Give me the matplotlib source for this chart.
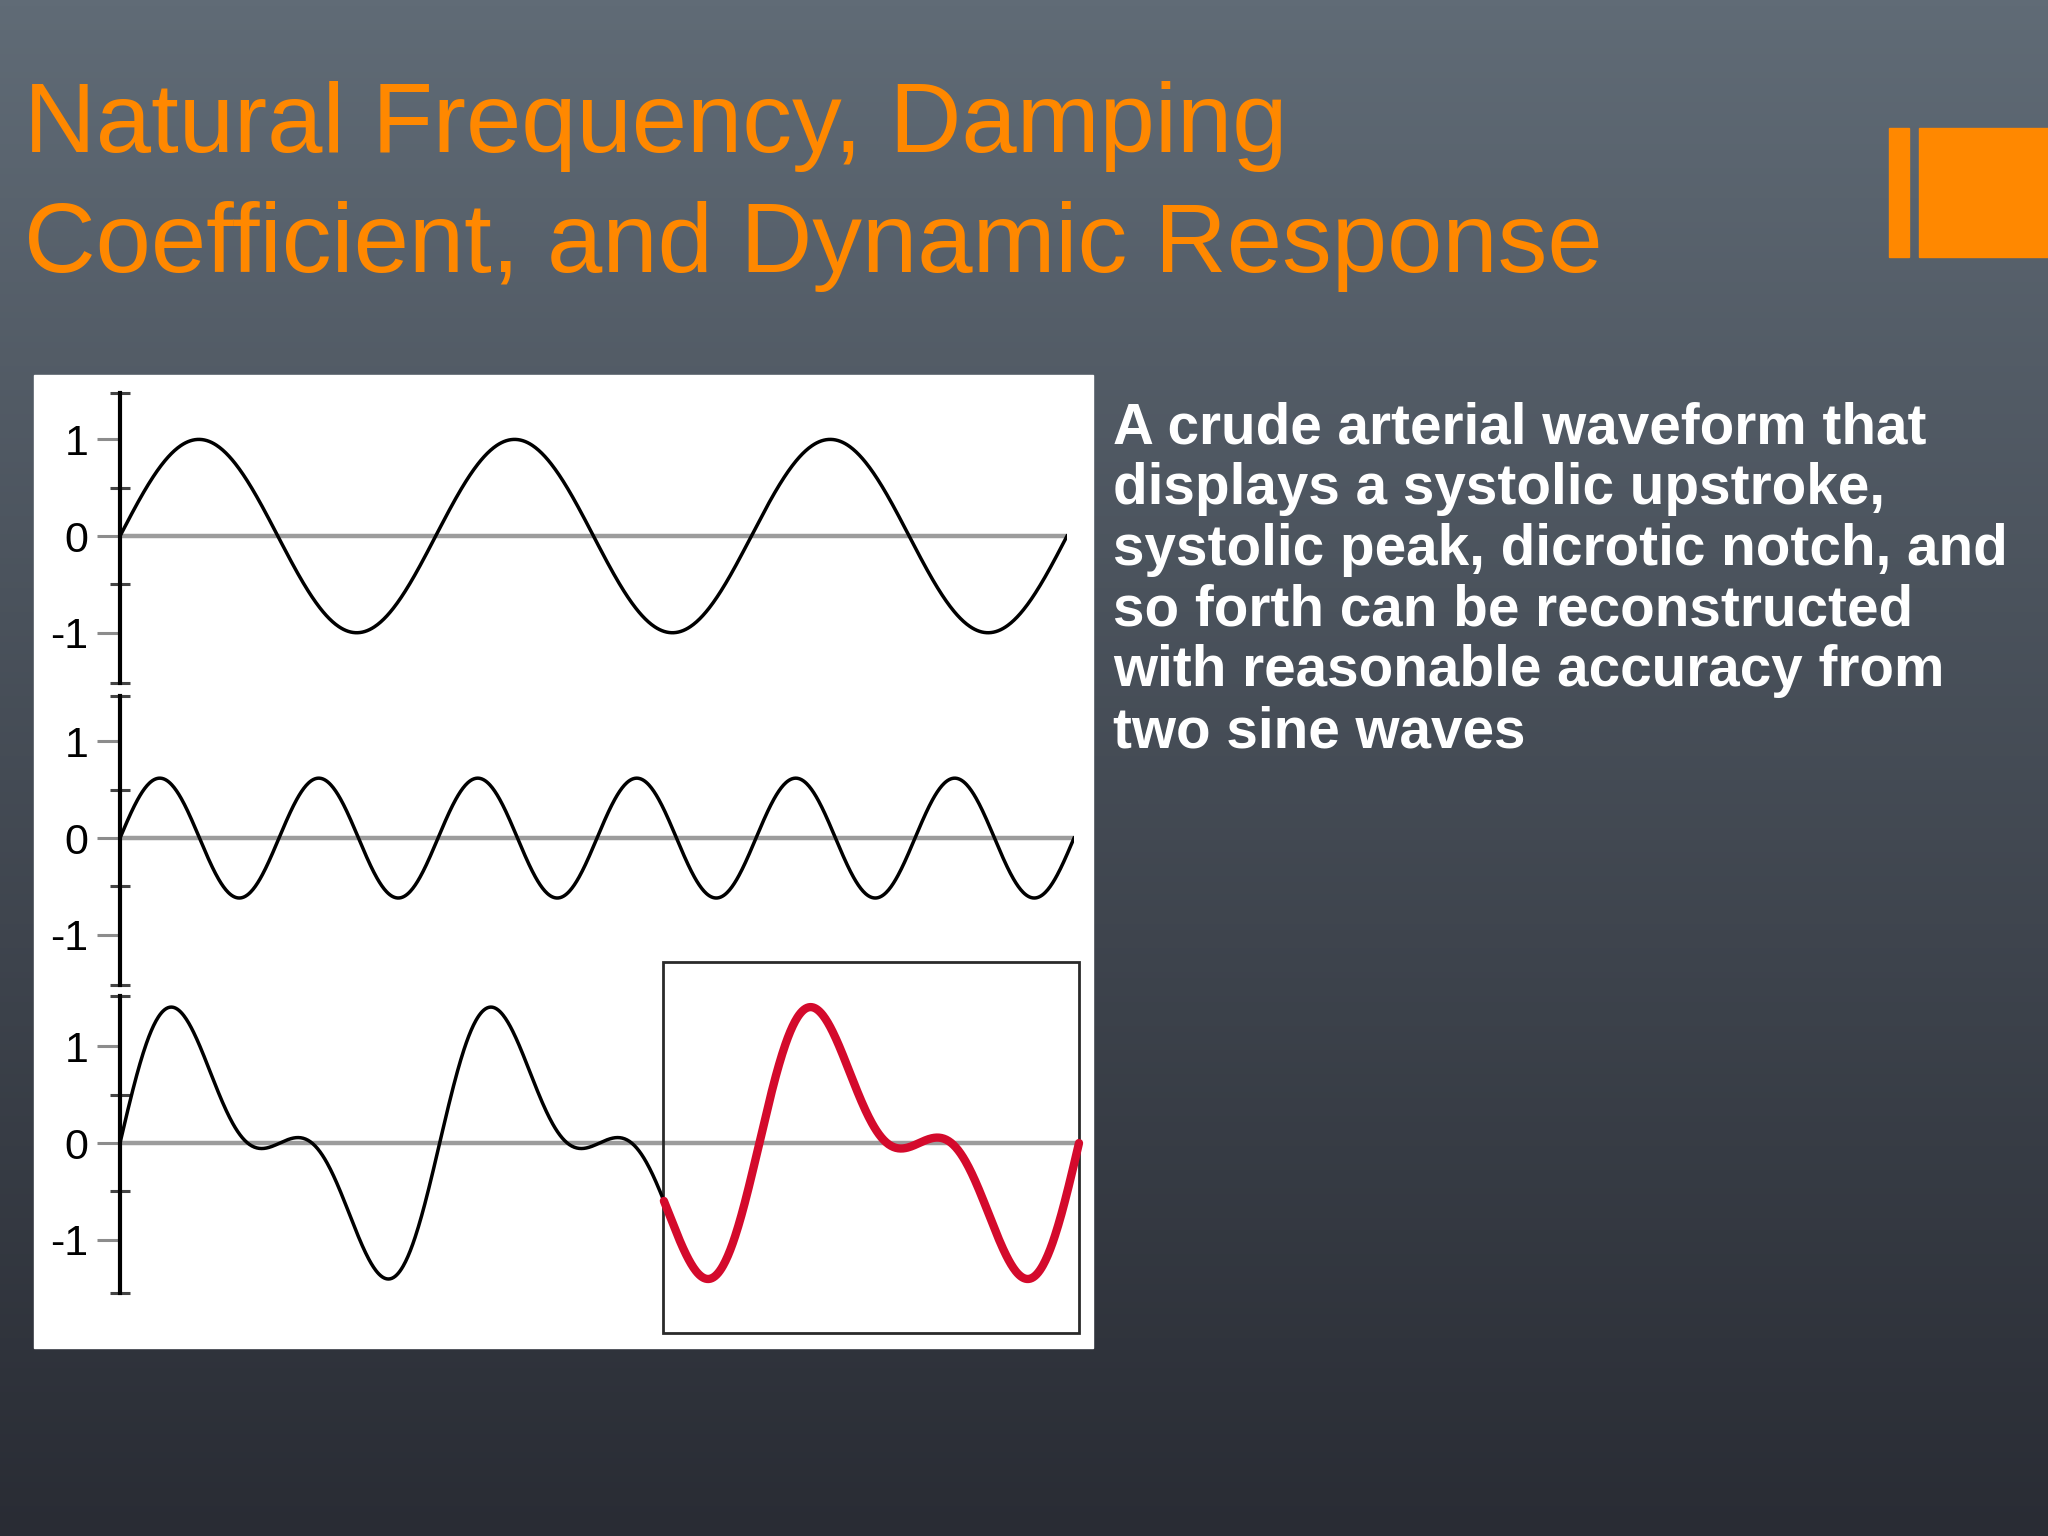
import numpy as np
import matplotlib
matplotlib.use("Agg")
import matplotlib.pyplot as plt
from matplotlib.patches import Rectangle

# === DATA ===
title_lines = ["Natural Frequency, Damping", "Coefficient, and Dynamic Response"]
body_lines = [
    "A crude arterial waveform that",
    "displays a systolic upstroke,",
    "systolic peak, dicrotic notch, and",
    "so forth can be reconstructed",
    "with reasonable accuracy from",
    "two sine waves",
]

# two sine components: cycles across the trace and amplitude
wave_cycles = [3, 6]
wave_amps = [1.0, 0.62]
trace_span = 3.0          # x axis in fundamental cycles
red_start = 1.70          # highlighted part of the summed wave
box_x = [1.70, 3.0]
box_y = [-1.96, 1.87]

ytick_vals = [-1, 0, 1]
ytick_labels = ["-1", "0", "1"]

# === FIGURE ===
W, H = 2048, 1536
fig = plt.figure(figsize=(W / 100, H / 100), dpi=100)


def frac(left, top, right, bottom):
    return [left / W, 1 - bottom / H, (right - left) / W, (bottom - top) / H]


# background gradient
bg = fig.add_axes([0, 0, 1, 1])
bg.set_zorder(-5)
top_c = np.array([96, 107, 118]) / 255
bot_c = np.array([41, 44, 52]) / 255
g = np.linspace(0, 1, 256)[:, None]
grad = (top_c[None, :] * (1 - g) + bot_c[None, :] * g)[:, None, :]
bg.imshow(grad, aspect="auto", extent=[0, 1, 0, 1])
bg.set_axis_off()

# orange marks top right
orange = "#ff8800"
fig.patches.append(Rectangle((1889 / W, 1 - 257 / H), 20 / W, 129 / H,
                             transform=fig.transFigure, color=orange))
fig.patches.append(Rectangle((1919 / W, 1 - 257 / H), 129 / W, 129 / H,
                             transform=fig.transFigure, color=orange))

# title
for i, line in enumerate(title_lines):
    fig.text(24 / W, 1 - (152 + 120 * i) / H, line, color=orange,
             fontsize=71.6, family="Liberation Sans", va="baseline", ha="left")

# body text
for i, line in enumerate(body_lines):
    fig.text(1113 / W, 1 - (443 + 60.8 * i) / H, line, color="white",
             fontsize=40.8, fontweight="bold", family="Liberation Sans",
             va="baseline", ha="left")

# white panel
fig.patches.append(Rectangle((34 / W, 1 - 1348 / H), (1093 - 34) / W, (1348 - 375) / H,
                             transform=fig.transFigure, color="white", zorder=-1))

t = np.linspace(0, trace_span, 1200)
fund = wave_amps[0] * np.sin(2 * np.pi * wave_cycles[0] / trace_span * t)
harm = wave_amps[1] * np.sin(2 * np.pi * wave_cycles[1] / trace_span * t)
combo = fund + harm

panels = [
    # left, top, right, bottom (px), ylim
    (120, 393, 1067, 683, (-1.52, 1.48)),
    (120, 696, 1074, 985, (-1.52, 1.47)),
    (120, 996, 1079, 1293, (-1.55, 1.52)),
]

axes = []
for left, top, right, bottom, ylim in panels:
    ax = fig.add_axes(frac(left, top, right, bottom))
    ax.patch.set_alpha(0)
    ax.set_xlim(0, trace_span)
    ax.set_ylim(*ylim)
    for s in ["top", "right", "bottom"]:
        ax.spines[s].set_visible(False)
    ax.spines["left"].set_linewidth(3)
    ax.spines["left"].set_color("black")
    ax.set_xticks([])
    ax.set_yticks(ytick_vals)
    ax.set_yticklabels(ytick_labels, family=["Liberation Sans Narrow", "Liberation Sans"],
                       fontsize=31)
    ax.set_yticks([ylim[0], -0.5, 0.5, ylim[1]], minor=True)
    ax.tick_params(axis="y", which="major", direction="out", length=16.5, width=2.2,
                   color="#8c8c8c", pad=6)
    ax.tick_params(axis="y", which="minor", direction="inout", length=14, width=2.2,
                   color="#444444")
    ax.axhline(0, color="#9c9c9c", lw=3.2, zorder=1)
    axes.append(ax)

axes[0].plot(t, fund, color="black", lw=2.5, zorder=3)
axes[1].plot(t, harm, color="black", lw=2.5, zorder=3)

black_part = t <= red_start
red_part = t >= red_start
axes[2].plot(t[black_part], combo[black_part], color="black", lw=2.5, zorder=3)
axes[2].plot(t[red_part], combo[red_part], color="#d40a2c", lw=6, zorder=4,
             solid_capstyle="round", clip_on=False)
axes[2].add_patch(Rectangle((box_x[0], box_y[0]), box_x[1] - box_x[0], box_y[1] - box_y[0],
                            fill=False, edgecolor="#2a2a2a", lw=2, clip_on=False, zorder=2))

fig.savefig("out.png", dpi=100)
